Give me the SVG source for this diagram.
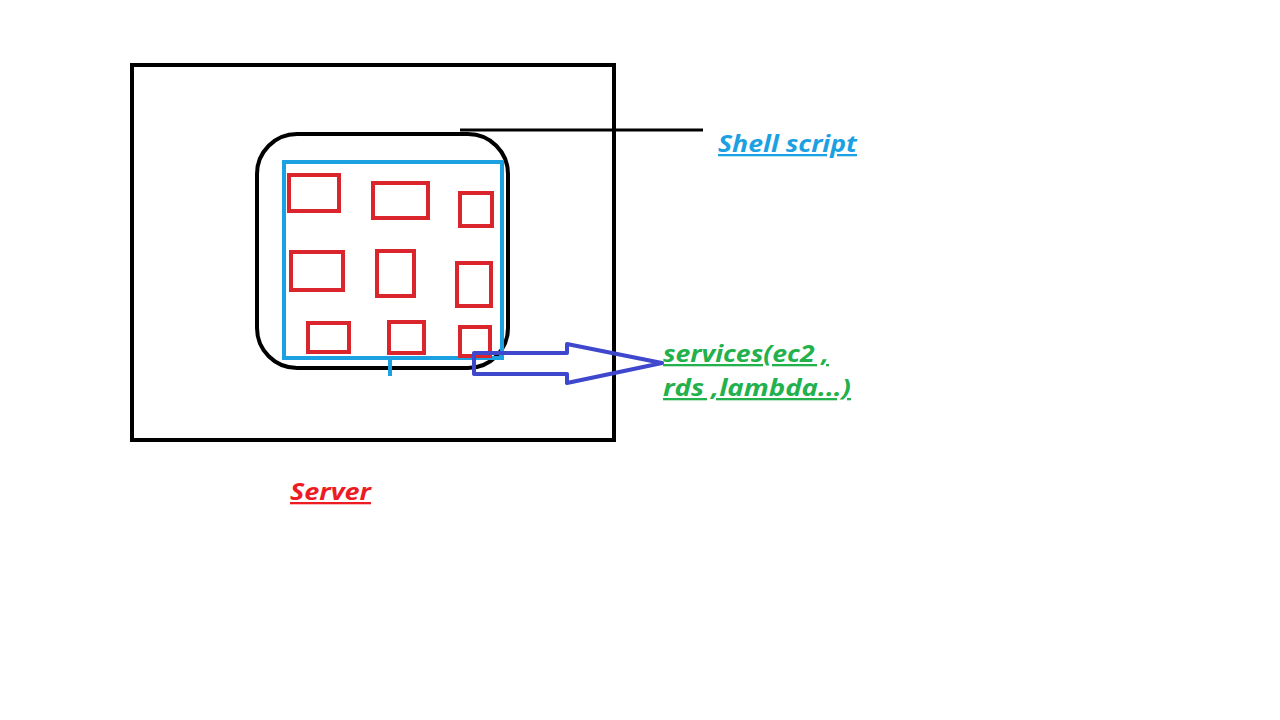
<svg xmlns="http://www.w3.org/2000/svg" width="1280" height="720" viewBox="0 0 1280 720">
<style>
.r{fill:none;stroke:#d9252b;stroke-width:4}
.t{font-family:"Open Sans","Liberation Sans",sans-serif;font-weight:bold;font-style:italic;font-size:23px;text-decoration:underline}
</style>
<rect width="1280" height="720" fill="#fff"/>
<g id="server"><rect x="132" y="65" width="482" height="375" fill="none" stroke="#000" stroke-width="4"/></g>
<g id="shell"><rect x="257" y="134" width="251" height="234" rx="40" fill="none" stroke="#000" stroke-width="4"/></g>
<g id="container"><rect x="284" y="162" width="218" height="196" fill="none" stroke="#1ba1e2" stroke-width="4"/>
<line x1="390" y1="358" x2="390" y2="376" stroke="#1ba1e2" stroke-width="4"/></g>
<g id="services-boxes">
<rect class="r" x="289" y="175" width="50" height="36"/>
<rect class="r" x="373" y="183" width="55" height="35"/>
<rect class="r" x="460" y="193" width="32" height="33"/>
<rect class="r" x="291" y="252" width="52" height="38"/>
<rect class="r" x="377" y="251" width="37" height="45"/>
<rect class="r" x="457" y="263" width="34" height="43"/>
<rect class="r" x="308" y="323" width="41" height="29"/>
<rect class="r" x="389" y="322" width="35" height="31"/>
<rect class="r" x="460" y="327" width="30" height="29"/>
</g>
<g id="connectors">
<line x1="460" y1="130" x2="703" y2="130" stroke="#000" stroke-width="3"/>
<polygon points="474,353 567,353 567,344 662,363 567,383 567,374 474,374" fill="none" stroke="#3f48cc" stroke-width="4" stroke-linejoin="round"/>
</g>
<text class="t" x="718" y="152" fill="#1ba1e2" textLength="139" lengthAdjust="spacingAndGlyphs">Shell script</text>
<text class="t" x="663" y="362" fill="#22b14c" textLength="166" lengthAdjust="spacingAndGlyphs">services(ec2 ,</text>
<text class="t" x="663" y="396" fill="#22b14c" textLength="188" lengthAdjust="spacingAndGlyphs">rds ,lambda...)</text>
<text class="t" x="290" y="500" fill="#ed1c24" textLength="81" lengthAdjust="spacingAndGlyphs">Server</text>
</svg>
